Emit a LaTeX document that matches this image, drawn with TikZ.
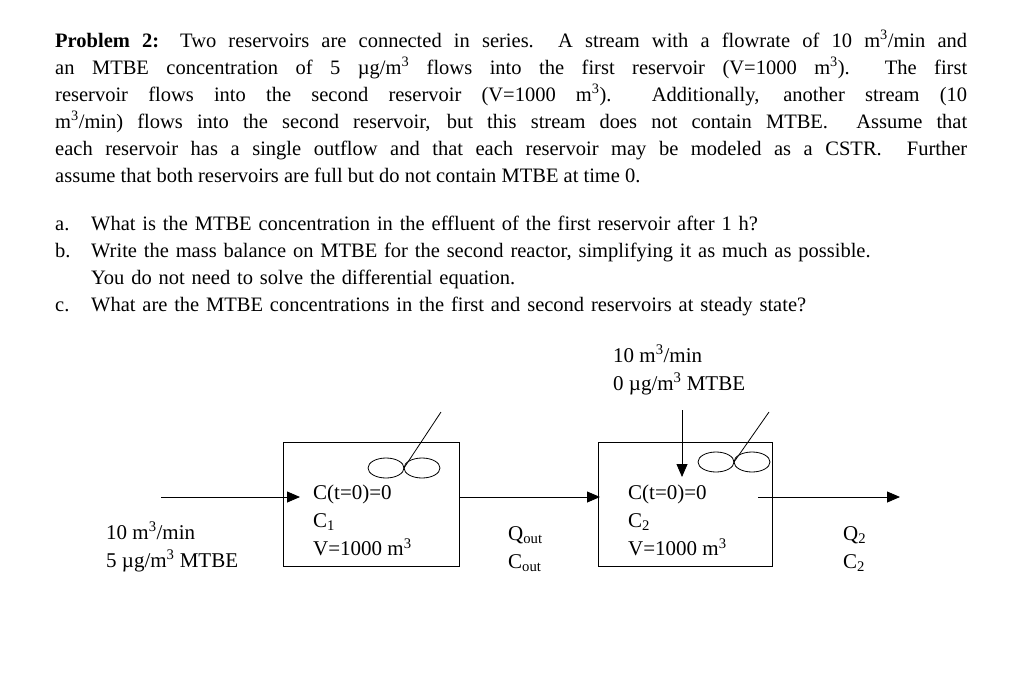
\documentclass[tikz,border=0pt]{standalone}
\usepackage{fontspec}
\setmainfont{Liberation Serif}
\usetikzlibrary{arrows.meta}
\begin{document}
\begin{tikzpicture}[x=1pt,y=-1pt,
  txt/.style={font=\fontsize{20.5}{27}\selectfont, inner sep=0pt},
  lbl/.style={font=\fontsize{21}{28}\selectfont, inner sep=0pt, align=left},
  box/.style={draw, line width=0.8pt},
  flow/.style={line width=0.8pt, -{Triangle[length=13pt,width=11pt]}}]
\useasboundingbox (0,0) rectangle (1024,677);
\node[txt, anchor=north west, text width=912pt, align=justify] (para) at (55,30)
{\textbf{Problem 2:} Two reservoirs are connected in series.\ \ A stream with a flowrate of 10 m\textsuperscript{3}/min and\linebreak an MTBE concentration of 5 µg/m\textsuperscript{3} flows into the first reservoir (V=1000 m\textsuperscript{3}).\ \ The first\linebreak reservoir flows into the second reservoir (V=1000 m\textsuperscript{3}).\ \ Additionally, another stream (10\linebreak m\textsuperscript{3}/min) flows into the second reservoir, but this stream does not contain MTBE.\ \ Assume that\linebreak each reservoir has a single outflow and that each reservoir may be modeled as a CSTR.\ \ Further\linebreak assume that both reservoirs are full but do not contain MTBE at time 0.\par};
\node[txt, anchor=north west, text width=912pt, align=left] (qs) at (55,203)
{\begin{list}{}{\leftmargin=36pt\labelwidth=30pt\labelsep=6pt\itemsep=0pt\parsep=0pt\topsep=0pt\partopsep=0pt}
\item[a.\hfill] What is the MTBE concentration in the effluent of the first reservoir after 1 h?
\item[b.\hfill] Write the mass balance on MTBE for the second reactor, simplifying it as much as possible.\\ You do not need to solve the differential equation.
\item[c.\hfill] What are the MTBE concentrations in the first and second reservoirs at steady state?
\end{list}};
% boxes
\draw[box] (283,442) rectangle (459,566);
\draw[box] (598,442) rectangle (772,566);
% mixers
\draw[line width=0.8pt] (386,468) ellipse (18 and 10);
\draw[line width=0.8pt] (422,468) ellipse (18 and 10);
\draw[line width=0.8pt] (404,468) -- (441,412);
\draw[line width=0.8pt] (716,462) ellipse (18 and 10);
\draw[line width=0.8pt] (752,462) ellipse (18 and 10);
\draw[line width=0.8pt] (734,462) -- (769,412);
% arrows
\coordinate (in0) at (161,497); \coordinate (in1) at (300,497);
\coordinate (m0) at (460,497); \coordinate (m1) at (600,497);
\coordinate (o0) at (758,497); \coordinate (o1) at (900,497);
\coordinate (v0) at (682,410); \coordinate (v1) at (682,477);
\draw[flow] (in0) -- (in1);
\draw[flow] (m0) -- (m1);
\draw[flow] (o0) -- (o1);
\draw[flow] (v0) -- (v1);
% labels
\node[lbl, anchor=north west] (l1) at (313,485) {C(t=0)=0\\ C\textsubscript{1}\\ V=1000 m\textsuperscript{3}};
\node[lbl, anchor=north west] (l2) at (628,485) {C(t=0)=0\\ C\textsubscript{2}\\ V=1000 m\textsuperscript{3}};
\node[lbl, anchor=north west] (in) at (106,522) {10 m\textsuperscript{3}/min\\ 5 µg/m\textsuperscript{3} MTBE};
\node[lbl, anchor=north west] (top) at (613,345) {10 m\textsuperscript{3}/min\\ 0 µg/m\textsuperscript{3} MTBE};
\node[lbl, anchor=north west] (q1) at (508,526) {Q\textsubscript{out}\\ C\textsubscript{out}};
\node[lbl, anchor=north west] (q2) at (843,526) {Q\textsubscript{2}\\ C\textsubscript{2}};
\end{tikzpicture}
\end{document}
